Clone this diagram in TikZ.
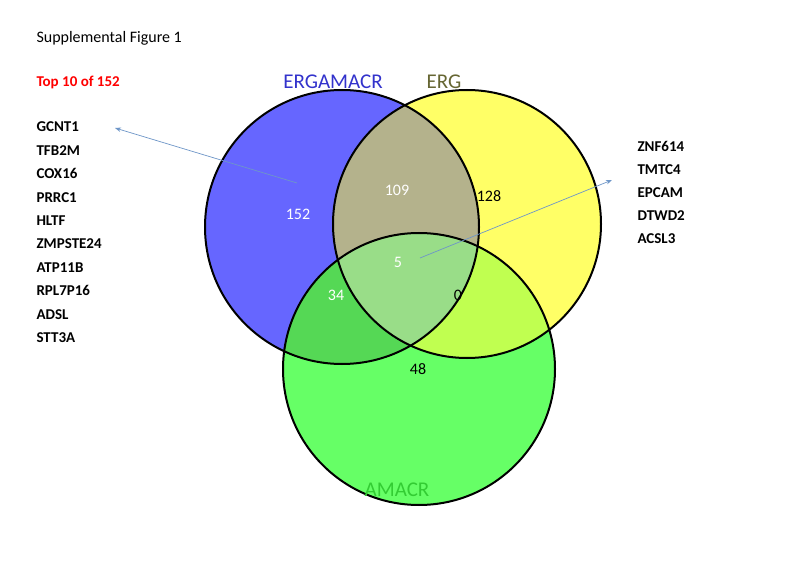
\documentclass[tikz,border=0pt]{standalone}
\usepackage{fontspec}
\usetikzlibrary{arrows.meta}
\setmainfont{Carlito}
\definecolor{cB}{RGB}{102,102,255}
\definecolor{cY}{RGB}{255,255,102}
\definecolor{cG}{RGB}{102,255,102}
\definecolor{cBY}{RGB}{180,178,140}
\definecolor{cBG}{RGB}{85,216,85}
\definecolor{cYG}{RGB}{192,255,80}
\definecolor{cBYG}{RGB}{153,221,136}
\definecolor{tB}{RGB}{51,51,204}
\definecolor{tY}{RGB}{102,102,51}
\definecolor{tG}{RGB}{51,204,51}
\definecolor{aC}{RGB}{110,150,200}
\begin{document}
\begin{tikzpicture}[x=1pt,y=-1pt,
  lst/.style={anchor=west,font=\bfseries\fontsize{15}{15}\selectfont},
  num/.style={font=\fontsize{16}{16}\selectfont},
  ttl/.style={font=\fontsize{21}{21}\selectfont},
  arr/.style={draw=aC,line width=0.7pt,-{Stealth[length=6pt]}}]
\useasboundingbox[fill=white] (0,0) rectangle (785,588);
\def\B{(342,227) circle (137)}
\def\Y{(467,224) circle (134)}
\def\G{(419,369) circle (136)}
\fill[cB] \B;
\fill[cY] \Y;
\fill[cG] \G;
\begin{scope}\clip \B; \fill[cBY] \Y; \fill[cBG] \G; \end{scope}
\begin{scope}\clip \Y; \fill[cYG] \G; \end{scope}
\begin{scope}\clip \B; \clip \Y; \fill[cBYG] \G; \end{scope}
\draw[line width=2pt] \B; \draw[line width=2pt] \Y; \draw[line width=2pt] \G;
\node[anchor=west,font=\fontsize{16}{16}\selectfont] (title) at (33,38) {Supplemental Figure 1};
\node[anchor=west,text=red,font=\bfseries\fontsize{15}{15}\selectfont] (top) at (33,82) {Top 10 of 152};
\foreach \t [count=\i from 0] in {GCNT1,TFB2M,COX16,PRRC1,HLTF,ZMPSTE24,ATP11B,RPL7P16,ADSL,STT3A}
  \node[lst] (l\i) at (33,127+23.4*\i) {\t};
\foreach \t [count=\i from 0] in {ZNF614,TMTC4,EPCAM,DTWD2,ACSL3}
  \node[lst] (r\i) at (634,146+23.2*\i) {\t};
\node[ttl,text=tB] (lb) at (333,82) {ERGAMACR};
\node[ttl,text=tY] (ly) at (444,82) {ERG};
\node[ttl,text=tG] (lg) at (397,490) {AMACR};
\node[num,white] (n152) at (298,214) {152};
\node[num,white] (n109) at (397,190) {109};
\node[num] (n128) at (489,196) {128};
\node[num,white] (n5) at (398,262) {5};
\node[num,white] (n34) at (336,295) {34};
\node[num] (n0) at (458,295) {0};
\node[num] (n48) at (418,369) {48};
\coordinate (a1) at (297,183); \coordinate (a1e) at (115,128);
\coordinate (a2) at (420,258); \coordinate (a2e) at (612,180);
\draw[arr] (a1) -- (a1e);
\draw[arr] (a2) -- (a2e);
\end{tikzpicture}
\end{document}
